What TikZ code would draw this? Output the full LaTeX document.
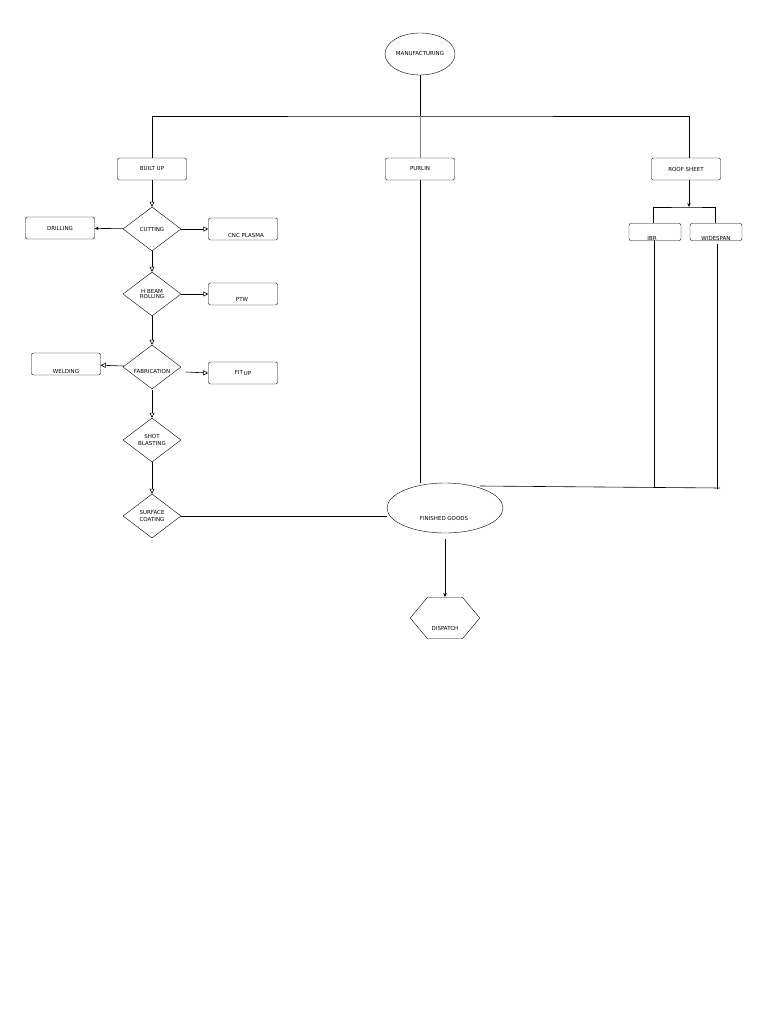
\documentclass[tikz,border=0pt]{standalone}
\usepackage{fontspec}
\setmainfont{DejaVu Sans}
\usetikzlibrary{shapes.geometric,arrows.meta}
\begin{document}
\begin{tikzpicture}[x=1pt,y=-1pt,
  every node/.style={font=\fontsize{5.5}{6}\selectfont},
  rbox/.style={draw,rounded corners=2pt,minimum width=69pt,minimum height=22pt,inner sep=0},
  sbox/.style={draw,rounded corners=2pt,minimum width=52pt,minimum height=17pt,inner sep=0},
  dia/.style={draw,diamond,minimum width=58pt,minimum height=44pt,inner sep=0,aspect=1.3},
  ln/.style={draw,line width=0.6pt},
  oa/.style={ln,-{Triangle[open,length=5pt,width=5pt]}},
  fa/.style={ln,-{Stealth[length=4pt,width=3.5pt]}}]
\useasboundingbox (0,0) rectangle (768,1024);
\node[draw,ellipse,minimum width=70pt,minimum height=42pt,inner sep=0] (mfg) at (420,54) {MANUFACTURING};
\node[rbox] (bu) at (152,169) {BUILT UP};
\node[rbox] (pu) at (420,169) {PURLIN};
\node[rbox] (rs) at (686,169) {ROOF SHEET};
\coordinate (bus) at (420,116);
\draw[ln] (mfg.south) -- (bus);
\draw[ln] (bu.north) |- (bus) -| (689,158);
\draw[ln,gray] (bus) -- (pu.north);
\node[dia] (cut) at (152,229) {CUTTING};
\node[rbox] (dr) at (60,228) {DRILLING};
\node[rbox] (cnc) at (243,229) {};
\node (cnct) at (246,235) {CNC PLASMA};
\node[dia] (hb) at (152,294) {\shortstack{H BEAM\\[-2pt]ROLLING}};
\node[rbox] (ptw) at (243,294) {};
\node (ptwt) at (242,299) {PTW};
\node[dia] (fab) at (152,367) {};
\node (fabt) at (152,371) {FABRICATION};
\node[rbox] (wel) at (66,364) {};
\node (welt) at (66,371) {WELDING};
\node[rbox] (fit) at (243,373) {FIT\,\raisebox{-1.5pt}{UP}};
\node[dia] (sb) at (152,440) {\shortstack{SHOT\\BLASTING}};
\node[dia] (sc) at (152,516) {\shortstack{SURFACE\\COATING}};
\node[draw,ellipse,minimum width=116pt,minimum height=50pt,inner sep=0] (fg) at (445,508) {};
\node (fgt) at (444,518) {FINISHED GOODS};
\node[draw,regular polygon,regular polygon sides=6,shape border rotate=0,minimum size=48pt,inner sep=0,xscale=1.45] (dp) at (445,618) {};
\node (dpt) at (445,628) {DISPATCH};
\node[sbox] (ibr) at (655,232) {};
\node (ibrt) at (652,238) {IBR};
\node[sbox] (ws) at (716,232) {};
\node (wst) at (716,238) {WIDESPAN};
\draw[oa] (bu) -- (cut);
\draw[fa] (cut) -- (dr);
\draw[oa] (cut) -- (cnc);
\draw[oa] (cut) -- (hb);
\draw[oa] (hb) -- (ptw);
\draw[oa] (hb) -- (fab);
\draw[oa] (fab) -- (wel);
\draw[oa] (186,372) -- (fit.west);
\draw[oa] (152,390) -- (sb.north);
\draw[oa] (sb) -- (sc);
\draw[ln] (sc.east) -- (sc.east -| fg.west);
\draw[fa] (fg.south) ++(0,6) -- (dp.north);
\draw[fa] (rs.south) ++(3,0) -- (689,207);
\coordinate (br) at (689,207);
\draw[ln] (653,223) |- (br) -| (715,223);
\draw[ln] (pu.south) -- (420,483);
\draw[ln] (654,240) -- (654,488);
\draw[ln] (717,244) -- (717,489);
\draw[ln] (480,486) -- (720,488);
\end{tikzpicture}
\end{document}
